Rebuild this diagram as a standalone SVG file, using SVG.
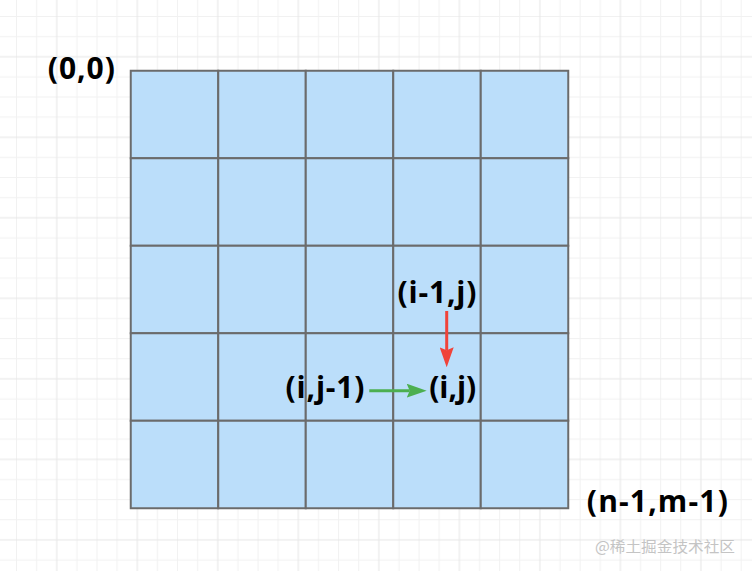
<svg xmlns="http://www.w3.org/2000/svg" width="752" height="571" viewBox="0 0 752 571">
  <defs>
    <pattern id="bg" patternUnits="userSpaceOnUse" x="16" y="16" width="80.52" height="80.52">
      <rect x="0" y="0" width="1" height="80.52" fill="#f1f1f1"/>
      <rect x="20.13" y="0" width="1" height="80.52" fill="#f1f1f1"/>
      <rect x="60.39" y="0" width="1" height="80.52" fill="#f1f1f1"/>
      <rect x="0" y="0" width="80.52" height="1" fill="#f1f1f1"/>
      <rect x="0" y="20.13" width="80.52" height="1" fill="#f1f1f1"/>
      <rect x="0" y="60.39" width="80.52" height="1" fill="#f1f1f1"/>
      <rect x="40.26" y="0" width="1" height="80.52" fill="#e6e6e6"/>
      <rect x="0" y="40.26" width="80.52" height="1" fill="#e6e6e6"/>
    </pattern>
    <marker id="arrRed" markerUnits="userSpaceOnUse" markerWidth="20" markerHeight="14" viewBox="0 0 20 14" refX="3" refY="7" orient="auto">
      <path d="M0,0 L20,7 L0,14 L3,7 Z" fill="#f0433a"/>
    </marker>
    <marker id="arrGreen" markerUnits="userSpaceOnUse" markerWidth="20" markerHeight="14" viewBox="0 0 20 14" refX="3" refY="7" orient="auto">
      <path d="M0,0 L20,7 L0,14 L3,7 Z" fill="#4caf50"/>
    </marker>
  </defs>
  <style>
    .cell { fill: #bbdefa; stroke: #6b6b6b; stroke-width: 2; }
    .lbl { font-family: "Open Sans", "Liberation Sans", Arial, sans-serif; font-weight: bold; font-size: 30px; fill: #000; }
    .wm { font-family: "Noto Sans CJK SC", "Liberation Sans", sans-serif; font-size: 15px; fill: #c4c4c4; }
  </style>
  <rect x="0" y="0" width="752" height="571" fill="#ffffff"/>
  <rect x="0" y="0" width="752" height="571" fill="url(#bg)"/>

  <g id="matrix">
    <rect class="cell" x="130.75" y="70.75" width="87.5" height="87.5"/>
    <rect class="cell" x="218.25" y="70.75" width="87.5" height="87.5"/>
    <rect class="cell" x="305.75" y="70.75" width="87.5" height="87.5"/>
    <rect class="cell" x="393.25" y="70.75" width="87.5" height="87.5"/>
    <rect class="cell" x="480.75" y="70.75" width="87.5" height="87.5"/>
    <rect class="cell" x="130.75" y="158.25" width="87.5" height="87.5"/>
    <rect class="cell" x="218.25" y="158.25" width="87.5" height="87.5"/>
    <rect class="cell" x="305.75" y="158.25" width="87.5" height="87.5"/>
    <rect class="cell" x="393.25" y="158.25" width="87.5" height="87.5"/>
    <rect class="cell" x="480.75" y="158.25" width="87.5" height="87.5"/>
    <rect class="cell" x="130.75" y="245.75" width="87.5" height="87.5"/>
    <rect class="cell" x="218.25" y="245.75" width="87.5" height="87.5"/>
    <rect class="cell" x="305.75" y="245.75" width="87.5" height="87.5"/>
    <rect class="cell" x="393.25" y="245.75" width="87.5" height="87.5"/>
    <rect class="cell" x="480.75" y="245.75" width="87.5" height="87.5"/>
    <rect class="cell" x="130.75" y="333.25" width="87.5" height="87.5"/>
    <rect class="cell" x="218.25" y="333.25" width="87.5" height="87.5"/>
    <rect class="cell" x="305.75" y="333.25" width="87.5" height="87.5"/>
    <rect class="cell" x="393.25" y="333.25" width="87.5" height="87.5"/>
    <rect class="cell" x="480.75" y="333.25" width="87.5" height="87.5"/>
    <rect class="cell" x="130.75" y="420.75" width="87.5" height="87.5"/>
    <rect class="cell" x="218.25" y="420.75" width="87.5" height="87.5"/>
    <rect class="cell" x="305.75" y="420.75" width="87.5" height="87.5"/>
    <rect class="cell" x="393.25" y="420.75" width="87.5" height="87.5"/>
    <rect class="cell" x="480.75" y="420.75" width="87.5" height="87.5"/>
  </g>

  <g id="label-origin">
    <text class="lbl" x="47.8" y="79.3" textLength="67" lengthAdjust="spacing">(0,0)</text>
  </g>
  <g id="label-end">
    <text class="lbl" x="586.8" y="511.5" textLength="141" lengthAdjust="spacing">(n-1,m-1)</text>
  </g>
  <g id="node-up">
    <text class="lbl" x="397.5" y="303.3" textLength="79" lengthAdjust="spacing">(i-1,j)</text>
  </g>
  <g id="node-left">
    <text class="lbl" x="285.5" y="397.5" textLength="79" lengthAdjust="spacing">(i,j-1)</text>
  </g>
  <g id="node-current">
    <text class="lbl" x="429.2" y="397.5" textLength="47" lengthAdjust="spacing">(i,j)</text>
  </g>

  <g id="connectors">
    <line x1="446.7" y1="311" x2="446.7" y2="350.3" stroke="#f0433a" stroke-width="3" marker-end="url(#arrRed)"/>
    <line x1="369.3" y1="390.7" x2="409.7" y2="390.7" stroke="#4caf50" stroke-width="3" marker-end="url(#arrGreen)"/>
  </g>

  <text class="wm" x="595" y="552" textLength="140" lengthAdjust="spacingAndGlyphs">@稀土掘金技术社区</text>
</svg>
